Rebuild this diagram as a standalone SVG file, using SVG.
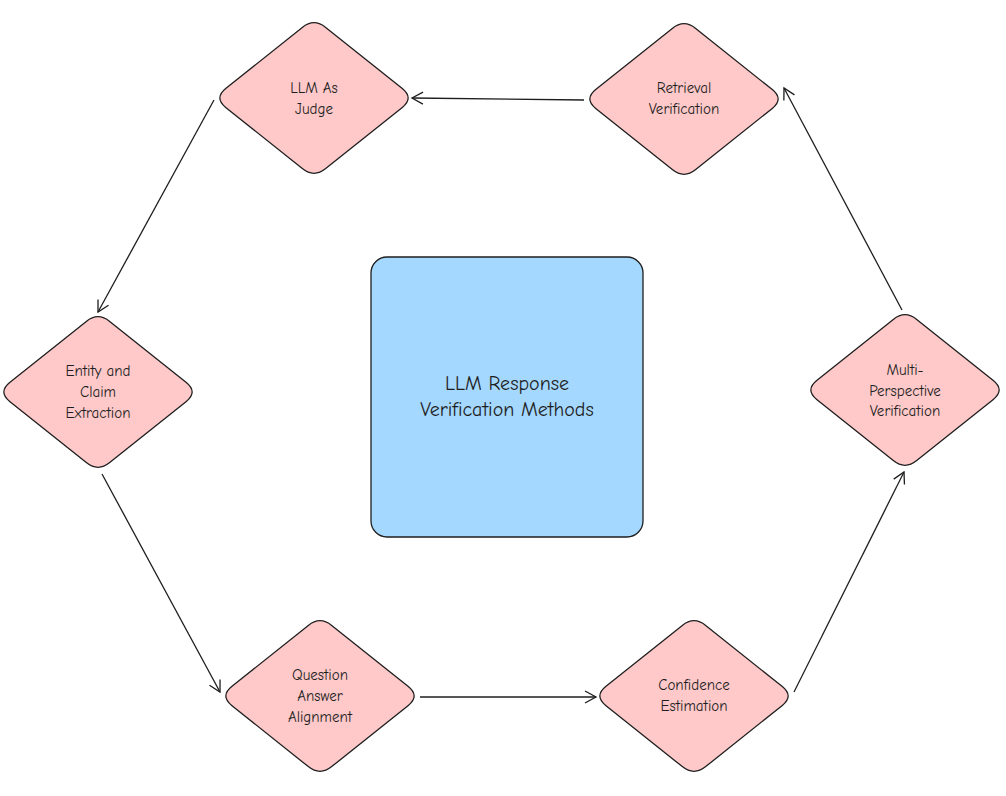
<svg xmlns="http://www.w3.org/2000/svg" xmlns:xlink="http://www.w3.org/1999/xlink" width="1006" height="796" viewBox="0 0 1006 796">
<style>
.d{fill:#ffc9c9;stroke:#1e1e1e;stroke-width:1.3}
.t{font-family:"Comic Neue","DejaVu Sans",sans-serif;font-size:15px;fill:#1e1e1e;text-anchor:middle}
.c{stroke:#1e1e1e;stroke-width:1.3;fill:none;marker-end:url(#ah)}
</style>
<defs>
<path id="dm" d="M -11.7,-70.6 Q 0,-80 11.7,-70.6 L 88.3,-9.4 Q 100,0 88.3,9.4 L 11.7,70.6 Q 0,80 -11.7,70.6 L -88.3,9.4 Q -100,0 -88.3,-9.4 Z"/>
<marker id="ah" markerWidth="14" markerHeight="14" refX="12" refY="7" orient="auto" markerUnits="userSpaceOnUse">
<path d="M1,1 L12,7 L1,13" fill="none" stroke="#1e1e1e" stroke-width="1.3"/>
</marker>
</defs>
<rect width="1006" height="796" fill="#ffffff"/>
<g id="center">
<rect x="371" y="257" width="272" height="280" rx="16" fill="#a5d8ff" stroke="#1e1e1e" stroke-width="1.3"/>
<text class="t" style="font-size:20px" x="507" y="390">LLM Response</text>
<text class="t" style="font-size:20px" x="507" y="416">Verification Methods</text>
</g>
<g id="judge"><use href="#dm" class="d" x="314" y="98"/>
<text class="t" x="314" y="93">LLM As</text><text class="t" x="314" y="114">Judge</text></g>
<g id="retrieval"><use href="#dm" class="d" x="684" y="99"/>
<text class="t" x="684" y="93">Retrieval</text><text class="t" x="684" y="114">Verification</text></g>
<g id="entity"><use href="#dm" class="d" x="98" y="392"/>
<text class="t" x="98" y="376">Entity and</text><text class="t" x="98" y="397">Claim</text><text class="t" x="98" y="418">Extraction</text></g>
<g id="multi"><use href="#dm" class="d" x="905" y="390"/>
<text class="t" x="905" y="375">Multi-</text><text class="t" x="905" y="396">Perspective</text><text class="t" x="905" y="416">Verification</text></g>
<g id="qa"><use href="#dm" class="d" x="320" y="696"/>
<text class="t" x="320" y="680">Question</text><text class="t" x="320" y="701">Answer</text><text class="t" x="320" y="722">Alignment</text></g>
<g id="conf"><use href="#dm" class="d" x="694" y="696"/>
<text class="t" x="694" y="690">Confidence</text><text class="t" x="694" y="711">Estimation</text></g>
<g id="connectors">
<path class="c" d="M584,100 L412,98"/>
<path class="c" d="M214,100 L98,312"/>
<path class="c" d="M102,474 L220,692"/>
<path class="c" d="M420,697 L596,697"/>
<path class="c" d="M794,692 L904,472"/>
<path class="c" d="M902,310 L784,88"/>
</g>
</svg>
